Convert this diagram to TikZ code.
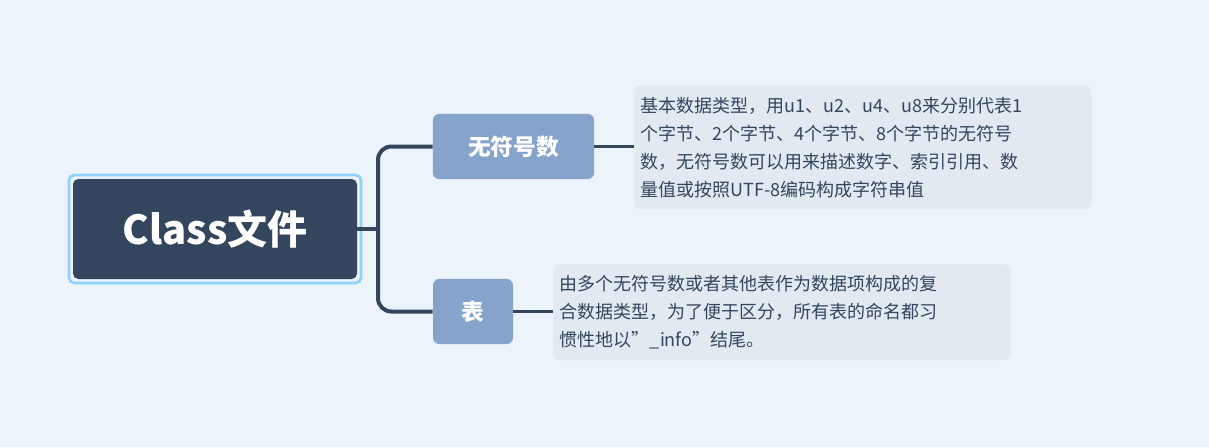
\documentclass[tikz,border=0pt]{standalone}
\usepackage{fontspec}
\setmainfont{Noto Sans CJK SC}
\definecolor{bg}{HTML}{EDF3FA}
\definecolor{dark}{HTML}{34455E}
\definecolor{branch}{HTML}{86A3CB}
\definecolor{note}{HTML}{E2E9F1}
\definecolor{sel}{HTML}{8ED3F8}
\tikzset{
 rootbox/.style={fill=dark,rounded corners=4pt,text=white,font=\fontsize{30}{36}\selectfont\bfseries,minimum width=213pt,minimum height=75pt,inner sep=0pt},
 branchbox/.style={fill=branch,rounded corners=5pt,text=white,font=\fontsize{17}{20}\selectfont\bfseries,minimum height=49pt,inner sep=0pt},
 notebox/.style={fill=note,rounded corners=5pt,text=dark,font=\fontsize{13.5}{21}\selectfont,align=left,anchor=north west,inner xsep=5pt,inner ysep=6pt,text width=333pt},
 conn/.style={draw=dark,line width=3pt},
 thin/.style={draw=dark,line width=2pt}
}
\begin{document}
\begin{tikzpicture}[x=0.75pt,y=-0.75pt]
\fill[bg] (0,0) rectangle (1209,447);
\draw[sel,line width=2pt,rounded corners=4pt] (69,175) rectangle (361,283);
\node[rootbox] (root) at (215,229) {Class文件};
\node[branchbox,minimum width=121pt] (b1) at (513.5,146.5) {无符号数};
\node[branchbox,minimum width=60pt] (b2) at (473,311.5) {表};
\node[notebox,minimum height=93pt] (n1) at (634,85) {基本数据类型，用u1、u2、u4、u8来分别代表1\\个字节、2个字节、4个字节、8个字节的无符号\\数，无符号数可以用来描述数字、索引引用、数\\量值或按照UTF-8编码构成字符串值};
\node[notebox,minimum height=72pt] (n2) at (553,264) {由多个无符号数或者其他表作为数据项构成的复\\合数据类型，为了便于区分，所有表的命名都习\\惯性地以"\_info"结尾。};
\coordinate (j) at (378,229);
\draw[conn] (root.east) -- (j);
\draw[conn,rounded corners=10pt] (b1.west) -- (378,146.5) -- (378,311.5) -- (b2.west);
\draw[thin] (b1.east) -- (n1.west |- b1.east);
\draw[thin] (b2.east) -- (n2.west |- b2.east);
\end{tikzpicture}
\end{document}
